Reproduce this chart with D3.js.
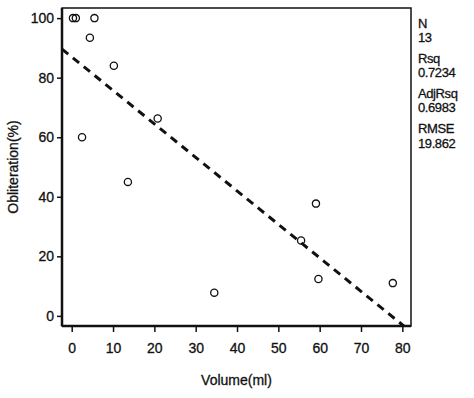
<!DOCTYPE html>
<html>
<head>
<meta charset="utf-8">
<script src="https://cdn.jsdelivr.net/npm/d3@7"></script>
<style>
  body { margin: 0; background: #fff; }
  svg text { font-family: "Liberation Sans", Arial, sans-serif; fill: #111; stroke: #111; stroke-width: 0.3; }
</style>
</head>
<body>
<div id="chart"></div>
<script>
// Data
const volume = [0.3, 1.0, 5.5, 4.4, 10.2, 2.5, 20.8, 13.6, 34.5, 59.1, 55.5, 59.7, 77.7];
const obliteration = [100, 100, 100, 93.4, 84, 60, 66.3, 45, 7.8, 37.7, 25.3, 12.4, 11];
const xTicks = [0, 10, 20, 30, 40, 50, 60, 70, 80];
const yTicks = [0, 20, 40, 60, 80, 100];
const statLabels = ['N', 'Rsq', 'AdjRsq', 'RMSE'];
const statValues = ['13', '0.7234', '0.6983', '19.862'];

const W = 474, H = 398;
const margin = {top: 8, right: 63, bottom: 72, left: 62};
const width = W - margin.left - margin.right;
const height = H - margin.top - margin.bottom;

const svg = d3.select('#chart').append('svg')
  .attr('width', W)
  .attr('height', H);

const g = svg.append('g')
  .attr('transform', 'translate(' + margin.left + ',' + margin.top + ')');

const x = d3.scaleLinear().domain([-2.35, 82.1]).range([0, width]);
const y = d3.scaleLinear().domain([-3.4, 103.4]).range([height, 0]);

// least squares fit
const mx = d3.mean(volume), my = d3.mean(obliteration);
const sxy = d3.sum(volume, (v, i) => (v - mx) * (obliteration[i] - my));
const sxx = d3.sum(volume, v => (v - mx) * (v - mx));
const slope = sxy / sxx;
const intercept = my - slope * mx;

g.append('clipPath').attr('id', 'clip')
  .append('rect').attr('width', width).attr('height', height);

// frame
g.append('rect')
  .attr('width', width).attr('height', height)
  .attr('fill', 'none').attr('stroke', '#111').attr('stroke-width', 1.5);

// fit line
const fitX = [x.domain()[0], 81];
g.append('path')
  .attr('clip-path', 'url(#clip)')
  .attr('d', d3.line()(fitX.map(v => [x(v), y(intercept + slope * v)])))
  .attr('fill', 'none')
  .attr('stroke', '#111')
  .attr('stroke-width', 3)
  .attr('stroke-dasharray', '8,6');

// points
g.selectAll('.pt')
  .data(volume.map((v, i) => [v, obliteration[i]]))
  .enter().append('circle')
  .attr('class', 'pt')
  .attr('cx', d => x(d[0]))
  .attr('cy', d => y(d[1]))
  .attr('r', 3.6)
  .attr('fill', 'none')
  .attr('stroke', '#111')
  .attr('stroke-width', 1.3);

// axes
const xAxis = g.append('g')
  .attr('transform', 'translate(0,' + height + ')')
  .call(d3.axisBottom(x).tickValues(xTicks).tickSize(6).tickPadding(11));
const yAxis = g.append('g')
  .call(d3.axisLeft(y).tickValues(yTicks).tickSize(5).tickPadding(3));

[xAxis, yAxis].forEach(a => {
  a.select('.domain').attr('stroke', '#111').attr('stroke-width', 2.5);
  a.selectAll('.tick line').attr('stroke', '#111').attr('stroke-width', 1.5);
  a.selectAll('.tick text')
    .attr('font-size', 14)
    .attr('font-family', '"Liberation Sans", Arial, sans-serif')
    .attr('fill', '#111');
});
xAxis.select('.domain').attr('d', 'M0,0H' + width);
yAxis.select('.domain').attr('d', 'M0,0V' + height);

// axis titles
svg.append('text')
  .attr('x', margin.left + width / 2)
  .attr('y', 385)
  .attr('text-anchor', 'middle')
  .attr('font-size', 14)
  .text('Volume(ml)');

svg.append('text')
  .attr('transform', 'translate(18,' + (margin.top + height / 2) + ') rotate(-90)')
  .attr('text-anchor', 'middle')
  .attr('font-size', 14)
  .text('Obliteration(%)');

// stats block
const stats = svg.append('g').attr('transform', 'translate(418,0)');
statLabels.forEach((lab, i) => {
  const top = 27.5 + i * 35.2;
  stats.append('text')
    .attr('y', top)
    .attr('font-size', 13)
    .attr('letter-spacing', -0.4)
    .text(lab);
  stats.append('text')
    .attr('y', top + 14.5)
    .attr('font-size', 13)
    .attr('letter-spacing', -0.4)
    .text(statValues[i]);
});
</script>
</body>
</html>
